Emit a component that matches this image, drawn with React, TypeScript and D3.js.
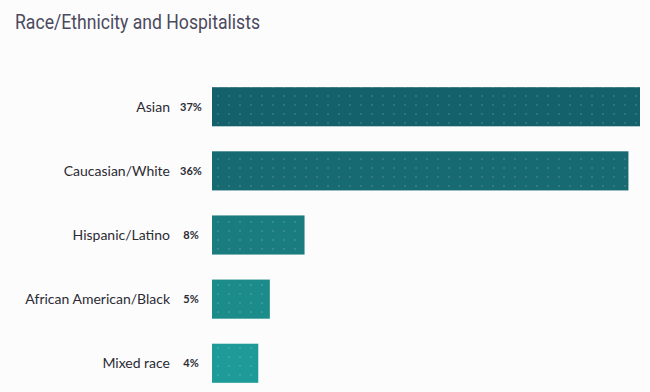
import React from "react";
import * as d3 from "d3";

const categories = ["Asian", "Caucasian/White", "Hispanic/Latino", "African American/Black", "Mixed race"];
const values = [37, 36, 8, 5, 4];
const valueLabels = ["37%", "36%", "8%", "5%", "4%"];
const barColors = ["#14616b", "#176a71", "#1a7c7e", "#1c8c8b", "#1e9b99"];
const title = "Race/Ethnicity and Hospitalists";

const W = 650;
const H = 392;

export default function App() {
  const x = d3.scaleLinear().domain([0, 37]).range([212, 640]);
  const y = d3.scaleBand<string>().domain(categories).range([75, 395]).paddingInner(0.39).paddingOuter(0.19);

  return (
    <svg width={W} height={H} style={{ position: "absolute", left: 0, top: 0, background: "#fdfcfd" }}>
      <defs>
        <pattern id="dots" width="11" height="9" patternUnits="userSpaceOnUse" x="4" y="2">
          <circle cx="5" cy="4" r="0.75" fill="rgba(255,255,255,0.28)" />
        </pattern>
      </defs>
      <rect width={W} height={H} fill="#fdfcfd" />
      <text x={15} y={29} fontFamily="Roboto, 'Open Sans', sans-serif" fontSize={20} fill="#4b4a5e"
        textLength={245} lengthAdjust="spacingAndGlyphs">{title}</text>
      {categories.map((c, i) => {
        const yy = y(c)!;
        const bw = y.bandwidth();
        const cy = yy + bw / 2;
        return (
          <g key={c}>
            <rect x={x(0)} y={yy} width={x(values[i]) - x(0)} height={bw} fill={barColors[i]} />
            <rect x={x(0)} y={yy} width={x(values[i]) - x(0)} height={bw} fill="url(#dots)" />
            <text x={170} y={cy + 5} textAnchor="end" fontFamily="Lato, 'Open Sans', sans-serif" fontSize={14} fill="#2b2b33">{c}</text>
            <text x={191} y={cy + 4} textAnchor="middle" fontFamily="Lato, 'Open Sans', sans-serif" fontSize={11} fontWeight={700} fill="#2b2b33">{valueLabels[i]}</text>
          </g>
        );
      })}
    </svg>
  );
}
